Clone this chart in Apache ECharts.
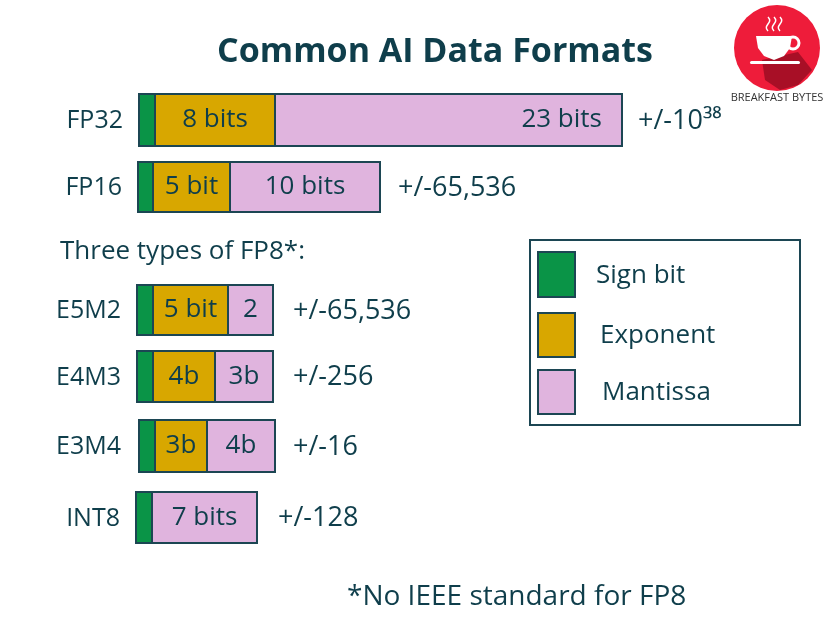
<!DOCTYPE html>
<html><head><meta charset="utf-8">
<script src="https://cdn.jsdelivr.net/npm/echarts@6/dist/echarts.min.js"></script>
<style>html,body{margin:0;background:#fff}#c{width:826px;height:628px}</style>
</head><body><div id="c"></div>
<script>
// rows of the diagram: name, range, segment edges (sign start, exp start, mant start, end), top, bottom
var formats = ['FP32', 'FP16', 'E5M2', 'E4M3', 'E3M4', 'INT8'];
var ranges = ['+/-10³⁸', '+/-65,536', '+/-65,536', '+/-256', '+/-16', '+/-128'];
var edges = [
  [139, 155, 275, 622],
  [138, 153, 230, 380],
  [137, 153, 228, 273],
  [137, 153, 215, 273],
  [139, 155, 207, 275],
  [136, 152, 152, 257]
];
var tops = [94, 162, 285, 351, 420, 492];
var bottoms = [146, 212, 335, 402, 472, 543];
var expLabels = ['8 bits', '5 bit', '5 bit', '4b', '3b', ''];
var mantLabels = ['23 bits', '10 bits', '2', '3b', '4b', '7 bits'];

var GREEN = '#0a9447', GOLD = '#d8a700', PINK = '#e0b4de', EDGE = '#1c4653', TXT = '#0f3e4b';
var FONT = '"Open Sans", "Noto Sans", sans-serif';

var segs = [];
for (var i = 0; i < formats.length; i++) {
  var e = edges[i];
  segs.push([e[0], e[1], tops[i], bottoms[i], GREEN, '']);
  if (e[2] > e[1]) segs.push([e[1], e[2], tops[i], bottoms[i], GOLD, expLabels[i]]);
  segs.push([e[2], e[3], tops[i], bottoms[i], PINK, mantLabels[i], i == 0 ? 'right' : 'center']);
}

function txt(x, y, s, font, align) {
  return {type: 'text', x: x, y: y, style: {text: s, font: font || ('25px ' + FONT), fill: TXT,
    textAlign: align || 'left', textVerticalAlign: 'middle'}};
}

var chart = echarts.init(document.getElementById('c'));
var graphics = [
  txt(435, 52, 'Common AI Data Formats', 'bold 34px ' + FONT, 'center'),
  txt(60, 252, 'Three types of FP8*:', '26px ' + FONT),
  txt(347, 597, '*No IEEE standard for FP8', '28px ' + FONT),
  // legend box
  {type: 'rect', shape: {x: 530, y: 240, width: 270, height: 185}, style: {fill: '#fff', stroke: EDGE, lineWidth: 2}},
  {type: 'rect', shape: {x: 538, y: 252, width: 37, height: 45}, style: {fill: GREEN, stroke: EDGE, lineWidth: 2}},
  {type: 'rect', shape: {x: 538, y: 313, width: 37, height: 44}, style: {fill: GOLD, stroke: EDGE, lineWidth: 2}},
  {type: 'rect', shape: {x: 538, y: 370, width: 37, height: 44}, style: {fill: PINK, stroke: EDGE, lineWidth: 2}},
  txt(596, 276, 'Sign bit', '26px ' + FONT),
  txt(600, 336, 'Exponent', '26px ' + FONT),
  txt(602, 393, 'Mantissa', '26px ' + FONT),
  // logo
  {type: 'circle', shape: {cx: 777, cy: 48, r: 43}, style: {fill: '#ee1c3a'}},
  {type: 'polygon', shape: {points: [[762, 60], [798, 52], [812, 70], [798, 85], [780, 90], [765, 80]]}, style: {fill: '#a80f26'}},
  {type: 'polygon', shape: {points: [[756, 36], [792, 36], [790, 48], [784, 56], [774, 60], [764, 56], [758, 48]]}, style: {fill: '#fff'}},
  {type: 'circle', shape: {cx: 793, cy: 43, r: 6}, style: {fill: 'none', stroke: '#fff', lineWidth: 3}},
  {type: 'rect', shape: {x: 750, y: 61, width: 50, height: 3, r: 1.5}, style: {fill: '#fff'}},
  {type: 'bezierCurve', shape: {x1: 768, y1: 31, x2: 768, y2: 17, cpx1: 762, cpy1: 25, cpx2: 774, cpy2: 23}, style: {stroke: '#fff', lineWidth: 1.5, fill: 'none'}},
  {type: 'bezierCurve', shape: {x1: 774, y1: 31, x2: 774, y2: 17, cpx1: 768, cpy1: 25, cpx2: 780, cpy2: 23}, style: {stroke: '#fff', lineWidth: 1.5, fill: 'none'}},
  {type: 'bezierCurve', shape: {x1: 780, y1: 31, x2: 780, y2: 17, cpx1: 774, cpy1: 25, cpx2: 786, cpy2: 23}, style: {stroke: '#fff', lineWidth: 1.5, fill: 'none'}},
  {type: 'text', x: 777, y: 98, style: {text: 'BREAKFAST BYTES', font: '11px ' + FONT, fill: '#333', textAlign: 'center', textVerticalAlign: 'middle'}}
];
var nameRight = [123, 122, 121, 121, 121, 120];
var rangeX = [638, 398, 293, 293, 293, 278];
for (var i = 0; i < formats.length; i++) {
  var cy = (tops[i] + bottoms[i]) / 2;
  graphics.push(txt(nameRight[i], cy + 1, formats[i], '25px ' + FONT, 'right'));
  graphics.push(txt(rangeX[i], cy + 1, ranges[i], '27px ' + FONT));
}

chart.setOption({
  animation: false,
  grid: {left: 0, right: 0, top: 0, bottom: 0},
  xAxis: {type: 'value', min: 0, max: 826, show: false},
  yAxis: {type: 'value', min: 0, max: 628, inverse: true, show: false},
  graphic: graphics,
  series: [{
    type: 'custom',
    data: segs,
    renderItem: function (params, api) {
      var d = segs[params.dataIndex];
      var p0 = api.coord([d[0], d[2]]), p1 = api.coord([d[1], d[3]]);
      var w = p1[0] - p0[0];
      var ch = [{type: 'rect', shape: {x: p0[0], y: p0[1], width: w, height: p1[1] - p0[1]},
        style: {fill: d[4], stroke: EDGE, lineWidth: 2}}];
      if (d[5]) {
        var right = d[6] == 'right';
        ch.push({type: 'text', style: {text: d[5], x: right ? p1[0] - 20 : p0[0] + w / 2, y: (p0[1] + p1[1]) / 2,
          align: right ? 'right' : 'center', verticalAlign: 'middle', font: '26px ' + FONT, fill: TXT}});
      }
      return {type: 'group', children: ch};
    }
  }]
});
</script></body></html>
